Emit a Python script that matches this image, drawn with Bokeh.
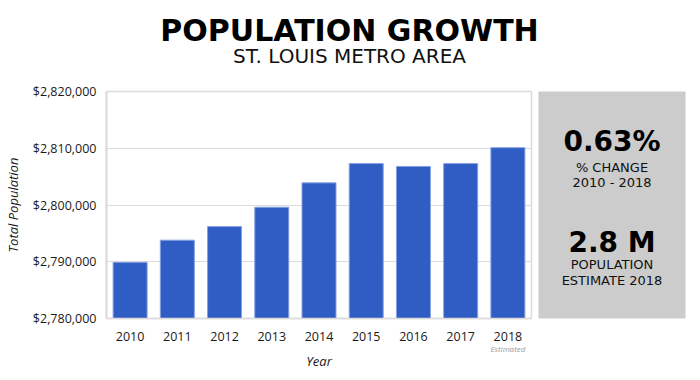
from bokeh.plotting import figure
from bokeh.models import (Range1d, FactorRange, FixedTicker, NumeralTickFormatter,
                          CategoricalAxis, CustomJSTickFormatter, Label)
from bokeh.layouts import column, row
from bokeh.embed import file_html
from bokeh.resources import INLINE

# ---- data ----
years = ["2010", "2011", "2012", "2013", "2014", "2015", "2016", "2017", "2018"]
population = [2789900, 2793800, 2796200, 2799600, 2803900, 2807300, 2806800, 2807300, 2810100]
y_ticks = [2780000, 2790000, 2800000, 2810000, 2820000]
note_year = "2018"
note_text = "Estimated"
title_text = "POPULATION GROWTH"
subtitle_text = "ST. LOUIS METRO AREA"
stat_values = ["0.63%", "2.8 M"]
stat_captions = [["% CHANGE", "2010 - 2018"], ["POPULATION", "ESTIMATE 2018"]]

TXT = "#1a1a1a"
BAR = "#2f5dc3"
GRID = "#dcdcdc"


def blank(w, h):
    f = figure(width=w, height=h, x_range=Range1d(0, w), y_range=Range1d(h, 0),
               output_backend="svg", toolbar_location=None,
               x_axis_location=None, y_axis_location=None,
               min_border_left=0, min_border_right=0, min_border_top=0, min_border_bottom=0)
    f.grid.visible = False
    f.outline_line_color = None
    return f


# ---- title block ----
tfig = blank(692, 78)
tfig.add_layout(Label(x=349, y=30, text=title_text, text_align="center", text_baseline="alphabetic",
                      text_font="DejaVu Sans", text_font_style="bold", text_font_size="30px",
                      text_color="#000000"))
tfig.add_layout(Label(x=349, y=55, text=subtitle_text, text_align="center", text_baseline="alphabetic",
                      text_font="DejaVu Sans", text_font_size="20px", text_color="#111111"))

# ---- main chart ----
p = figure(width=538, height=302, x_range=FactorRange(*years),
           y_range=Range1d(y_ticks[0], y_ticks[-1]),
           output_backend="svg", toolbar_location=None,
           min_border_left=106, min_border_right=7, min_border_top=13, min_border_bottom=62)
p.vbar(x=years, top=population, width=0.72, fill_color=BAR, line_color="#86a0e2", line_width=1)

p.outline_line_color = GRID
p.outline_line_width = 1.5
p.xgrid.visible = False
p.ygrid.grid_line_color = GRID
p.ygrid.grid_line_width = 1.2

p.yaxis.ticker = FixedTicker(ticks=y_ticks)
p.yaxis.formatter = NumeralTickFormatter(format="$0,0")
p.yaxis.axis_line_color = GRID
p.yaxis.axis_line_width = 2
p.yaxis.major_tick_line_color = None
p.yaxis.minor_tick_line_color = None
p.yaxis.major_tick_out = 0
p.yaxis.major_tick_in = 0
p.yaxis.major_label_standoff = 10
p.yaxis.major_label_text_font = "Open Sans"
p.yaxis.major_label_text_font_size = "12.5px"
p.yaxis.major_label_text_color = TXT
p.yaxis.axis_label = "Total Population"
p.yaxis.axis_label_text_font = "Open Sans"
p.yaxis.axis_label_text_font_style = "italic"
p.yaxis.axis_label_text_font_size = "13px"
p.yaxis.axis_label_text_color = TXT
p.yaxis.axis_label_standoff = 8

xa = p.xaxis[0]
xa.axis_line_color = GRID
xa.axis_line_width = 1.5
xa.major_tick_line_color = None
xa.major_tick_out = 0
xa.major_tick_in = 0
xa.major_label_standoff = 13
xa.major_label_text_font = "Open Sans"
xa.major_label_text_font_size = "12.5px"
xa.major_label_text_color = TXT

# second category axis: only the note under 2018, plus the "Year" title
note_fmt = CustomJSTickFormatter(args=dict(y=note_year, t=note_text),
                                 code="return tick == y ? t : ' ';")
xa2 = CategoricalAxis(formatter=note_fmt, axis_line_color=None,
                      major_tick_line_color=None, major_tick_out=0, major_tick_in=0,
                      major_label_standoff=-1,
                      major_label_text_font="Open Sans", major_label_text_font_style="italic",
                      major_label_text_font_size="8px", major_label_text_color="#9a9a9a",
                      axis_label="Year", axis_label_standoff=-5,
                      axis_label_text_font="Open Sans", axis_label_text_font_style="italic",
                      axis_label_text_font_size="13px", axis_label_text_color=TXT)
p.add_layout(xa2, "below")

# ---- stats panel ----
s = figure(width=154, height=302, x_range=Range1d(0, 147), y_range=Range1d(227, 0),
           output_backend="svg", toolbar_location=None,
           x_axis_location=None, y_axis_location=None,
           min_border_left=0, min_border_right=7, min_border_top=13, min_border_bottom=62)
s.grid.visible = False
s.outline_line_color = None
s.background_fill_color = "#cccccc"

big_y = [50, 151]
cap_y = [[75.5, 90.5], [173, 189]]
for v, by, caps, cys in zip(stat_values, big_y, stat_captions, cap_y):
    s.add_layout(Label(x=73.5, y=by, text=v, text_align="center", text_baseline="alphabetic",
                       text_font="DejaVu Sans", text_font_style="bold", text_font_size="28px",
                       text_color="#000000"))
    for c, cy in zip(caps, cys):
        s.add_layout(Label(x=73.5, y=cy, text=c, text_align="center", text_baseline="alphabetic",
                           text_font="DejaVu Sans", text_font_size="13px", text_color="#111111"))

layout = column(tfig, row(p, s))
open("out.html", "w").write(file_html(layout, INLINE))
